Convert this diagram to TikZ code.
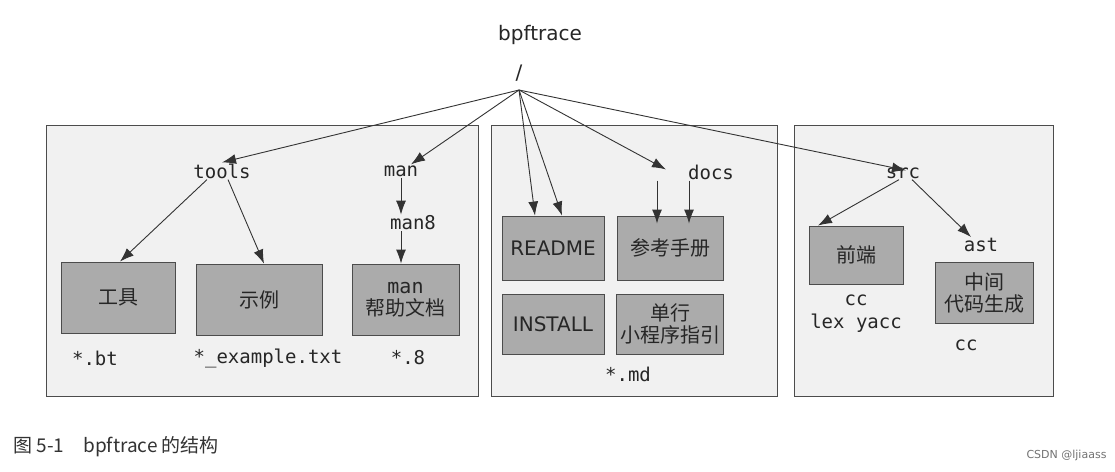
\documentclass[tikz,border=0pt]{standalone}
\usepackage{fontspec}
\setmainfont{DejaVu Sans}
\newfontfamily\cjk{Noto Sans CJK SC}
\newfontfamily\mono{DejaVu Sans Mono}
\usetikzlibrary{arrows.meta}
\definecolor{panelc}{HTML}{F1F1F1}
\definecolor{boxc}{HTML}{ABABAB}
\tikzset{
 panel/.style={draw=black!70,fill=panelc,line width=0.9pt},
 gbox/.style={draw=black!70,fill=boxc,line width=0.9pt,align=center,font=\cjk\fontsize{20}{24}\selectfont,text=black!85},
 lbl/.style={font=\mono\fontsize{19}{23}\selectfont,text=black!85,inner sep=1pt,align=center},
 arr/.style={-{Latex[length=14pt,width=10pt]},line width=0.9pt,black!80},
}
\begin{document}
\begin{tikzpicture}[x=1pt,y=-1pt]
\useasboundingbox[fill=white] (0,0) rectangle (1115,471);
\draw[panel] (46,125) rectangle (478,396);
\draw[panel] (491,125) rectangle (777,396);
\draw[panel] (794,125) rectangle (1053,396);
\node[font=\fontsize{20}{24}\selectfont,text=black!85] (bpf) at (540,35) {bpftrace};
\node[font=\fontsize{20}{24}\selectfont,text=black!85,inner sep=1pt] (root) at (519,73) {/};
\coordinate (r) at (519,90);
% left
\node[lbl] (tools) at (222,171) {tools};
\node[lbl] (man) at (401,171) {man};
\node[lbl] (man8) at (413,223) {man8};
\node[gbox,minimum width=114pt,minimum height=71pt] (gj) at (118,297.5) {工具};
\node[gbox,minimum width=126pt,minimum height=71pt] (sl) at (259,299.5) {示例};
\node[gbox,minimum width=107pt,minimum height=71pt,font=\cjk\fontsize{20}{22}\selectfont] (mh) at (405.5,299.5) {\mono man\\帮助文档};
\node[lbl] (bt) at (95,358) {*.bt};
\node[lbl] (ex) at (268,358) {*\_example.txt};
\node[lbl] (e8) at (408,358) {*.8};
% middle
\node[gbox,minimum width=102pt,minimum height=64pt,font=\fontsize{20}{24}\selectfont] (rd) at (553,248) {README};
\node[gbox,minimum width=102pt,minimum height=60pt,font=\fontsize{20}{24}\selectfont] (in) at (553,324) {INSTALL};
\node[gbox,minimum width=106pt,minimum height=64pt] (ck) at (670,248) {参考手册};
\node[gbox,minimum width=106pt,minimum height=60pt,font=\cjk\fontsize{20}{22}\selectfont] (dh) at (670,324) {单行\\小程序指引};
\node[lbl] (docs) at (711,172) {docs};
\node[lbl] (md) at (628,374) {*.md};
% right
\node[lbl] (src) at (903,173) {src};
\node[gbox,minimum width=94pt,minimum height=58pt] (qd) at (856,255) {前端};
\node[lbl] (ast) at (981,245) {ast};
\node[gbox,minimum width=98pt,minimum height=61pt,font=\cjk\fontsize{20}{22}\selectfont] (zj) at (984,292.5) {中间\\代码生成};
\node[lbl] (cc1) at (856,314) {cc\\lex yacc};
\node[lbl] (cc2) at (966,345) {cc};
% arrows
\draw[arr] (r) -- (tools.north);
\draw[arr] (r) -- ([xshift=10pt]man.north);
\draw[arr] (r) -- ([xshift=-18pt]rd.north);
\draw[arr] (r) -- ([xshift=9pt]rd.north);
\draw[arr] (r) -- ([xshift=-45pt,yshift=-6pt]docs.north);
\draw[arr] (r) -- ([xshift=3pt,yshift=-4pt]src.north);
\draw[arr] ([xshift=-15pt]tools.south) -- ([xshift=2pt]gj.north);
\draw[arr] ([xshift=6pt]tools.south) -- ([xshift=5pt]sl.north);
\draw[arr] (man.south) -- (man.south |- man8.north);
\draw[arr] (man.south |- man8.south) -- (man.south |- mh.north);
\draw[arr] ([xshift=-54pt]docs.south) -- ([xshift=-13pt,yshift=-8pt]ck.north);
\draw[arr] ([xshift=-22pt]docs.south) -- ([xshift=19pt,yshift=-8pt]ck.north);
\draw[arr] ([xshift=-4pt]src.south) -- ([xshift=-38pt]qd.north);
\draw[arr] ([xshift=9pt]src.south) -- ([xshift=-10pt]ast.north);
% caption
\node[anchor=west,font=\cjk\fontsize{19}{23}\selectfont,text=black!80] (cap) at (10,447) {图 5-1\quad bpftrace 的结构};
\node[anchor=east,font=\fontsize{11}{13}\selectfont,text=black!55] (csdn) at (1110,455) {CSDN @ljiaass};
\end{tikzpicture}
\end{document}
